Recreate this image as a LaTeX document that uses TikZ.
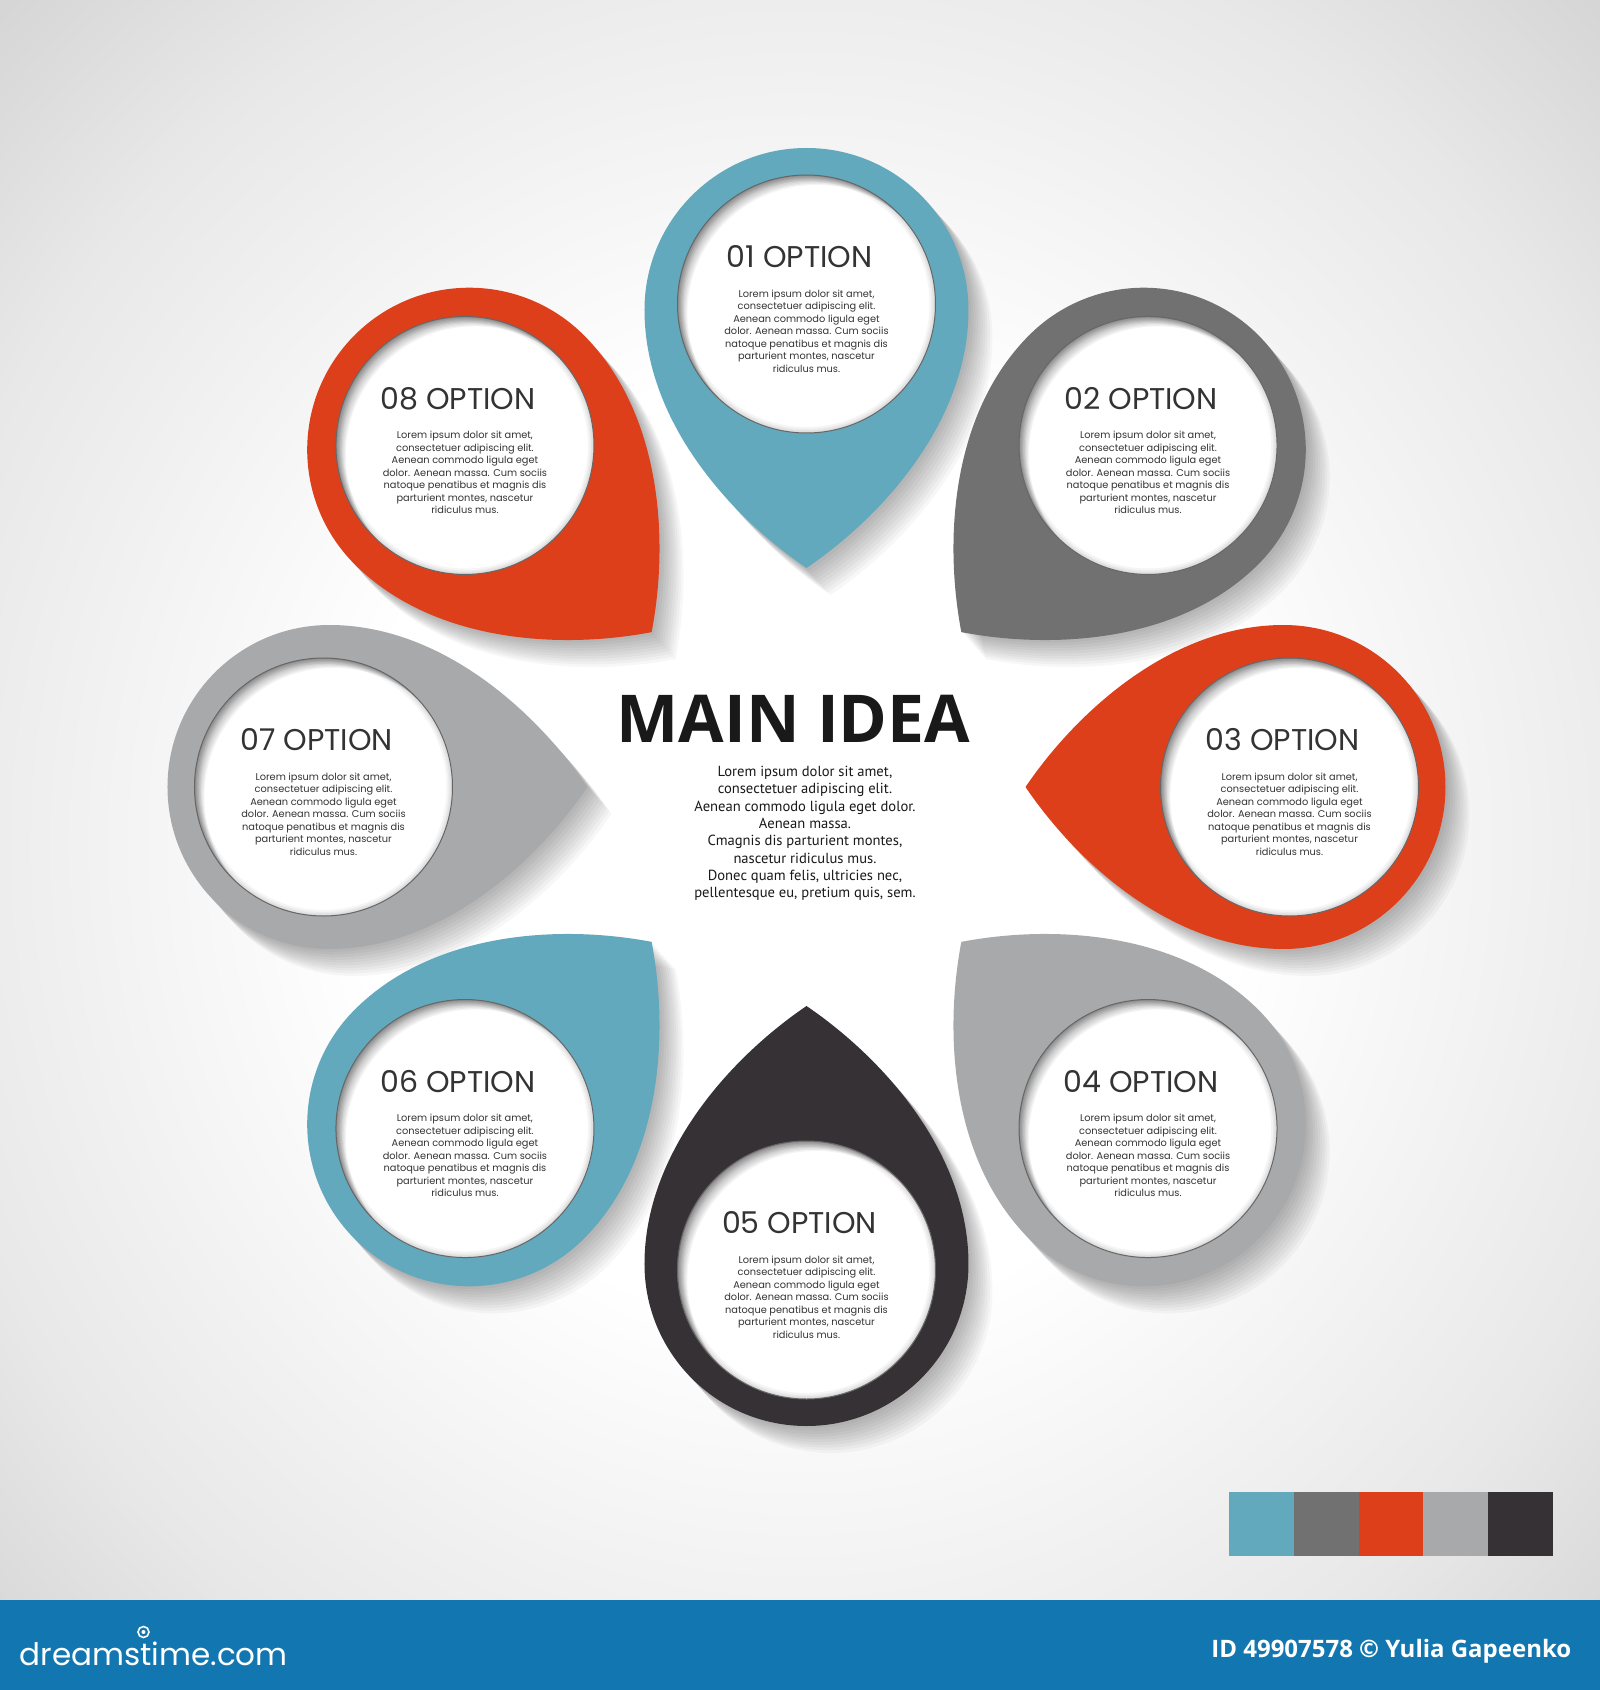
\documentclass[tikz,border=0pt]{standalone}
\usepackage{fontspec}
\setmainfont{Poppins}
\newfontfamily\optfont{Poppins}
\newfontfamily\myriadfont{PT Sans}
\newfontfamily\heavyfont{Open Sans}
\usetikzlibrary{calc}
\definecolor{cblue}{HTML}{63A9BD}
\definecolor{cdgray}{HTML}{717171}
\definecolor{cred}{HTML}{DD3F1A}
\definecolor{clgray}{HTML}{A8A9AB}
\definecolor{cdark}{HTML}{363134}
\definecolor{cbar}{HTML}{1277B0}
\definecolor{ctext}{HTML}{333333}
\pgfdeclareradialshading{bgshade}{\pgfpoint{0bp}{0bp}}{color(0bp)=(white); color(14bp)=(white); color(28bp)=(black!9); color(36bp)=(black!17); color(50bp)=(black!17)}
\tikzset{
  petalshape/.style={insert path={(0,-258) .. controls (78,-205) and (162,-110) .. (162,0) arc[start angle=0,end angle=180,radius=162] .. controls (-162,-110) and (-78,-205) .. (0,-258) -- cycle}},
  opttitle/.style={font=\optfont\fontsize{30}{31}\selectfont, text=ctext, inner sep=0pt},
  optbody/.style={font=\optfont\fontsize{9.8}{12.5}\selectfont, text=ctext, align=center, inner sep=0pt},
  maintitle/.style={font=\heavyfont\bfseries\fontsize{66}{70}\selectfont, text=black!90, inner sep=0pt},
  mainbody/.style={font=\myriadfont\fontsize{14.6}{17.3}\selectfont, text=black!90, align=center, inner sep=0pt},
  swatch/.style={minimum width=64.8pt, minimum height=64pt, inner sep=0pt, outer sep=0pt},
}
\newcommand{\lorem}{Lorem ipsum dolor sit amet,\\ consectetuer adipiscing elit.\\ Aenean commodo ligula eget\\ dolor. Aenean massa. Cum sociis\\ natoque penatibus et magnis dis\\ parturient montes, nascetur\\ ridiculus mus.}
\begin{document}
\begin{tikzpicture}[x=1pt,y=1pt]
\useasboundingbox (-806.5,-903) rectangle (793.5,787);
% background
\shade[shading=bgshade] (-806.5,-903) rectangle (793.5,787);
% shadows
\foreach \ang in {90,45,0,-45,-90,-135,180,135}{
  \foreach \k in {1,...,10}{
    \fill[black, opacity=0.03, shift={($(\ang:477)+(\k*2.4,-\k*2.7)$)}, rotate=\ang-90, petalshape];
  }
}
% petals
\foreach \ang/\col/\num in {90/cblue/01, 45/cdgray/02, 0/cred/03, -45/clgray/04, -90/cdark/05, -135/cblue/06, 180/clgray/07, 135/cred/08}{
  \fill[\col, shift={(\ang:477)}, rotate=\ang-90, petalshape];
  \coordinate (w\num) at (\ang:483);
  \fill[white] (w\num) circle (129);
  \begin{scope}
    \clip (w\num) circle (129);
    \foreach \s in {2,4,...,18}{
      \draw[black, opacity=0.045, line width=26] ($(w\num)+(\s*0.55,-\s*0.55)$) circle (142);
    }
    \foreach \s in {2,5,8,12}{
      \draw[black, opacity=0.04, line width=\s] (w\num) circle (129);
    }
  \end{scope}
  \draw[black!60, line width=1] (w\num) circle (129);
  \node[opttitle] (t\num) at ($(w\num)+(-7,47)$) {\num\ OPTION};
  \node[optbody] (b\num) at ($(w\num)+(0,-27)$) {\lorem};
}
% main idea
\node[maintitle] (main) at (-13,68) {MAIN IDEA};
\node[mainbody] (mainp) at (-1.5,-46.5) {Lorem ipsum dolor sit amet,\\ consectetuer adipiscing elit.\\ Aenean commodo ligula eget dolor.\\ Aenean massa.\\ Cmagnis dis parturient montes,\\ nascetur ridiculus mus.\\ Donec quam felis, ultricies nec,\\ pellentesque eu, pretium quis, sem.};
% swatches
\foreach \c [count=\i from 0] in {cblue,cdgray,cred,clgray,cdark}{
  \node[swatch, fill=\c, anchor=north west] (sw\i) at (422.5+\i*64.8,-705) {};
}
% bottom bar
\fill[cbar] (-806.5,-813) rectangle (793.5,-903);
\node[anchor=west, text=white, font=\optfont\fontsize{31}{33}\selectfont, inner sep=0pt] (logo) at (-787,-867) {dreamstime.com};
\draw[white, line width=1.6] (-663,-845) circle (5.5);
\fill[white] (-663,-845) circle (2);
\node[anchor=east, text=white, font=\heavyfont\bfseries\fontsize{24}{27}\selectfont, inner sep=0pt] (credit) at (765,-864) {ID 49907578 \textcopyright\ Yulia Gapeenko};
\end{tikzpicture}
\end{document}
